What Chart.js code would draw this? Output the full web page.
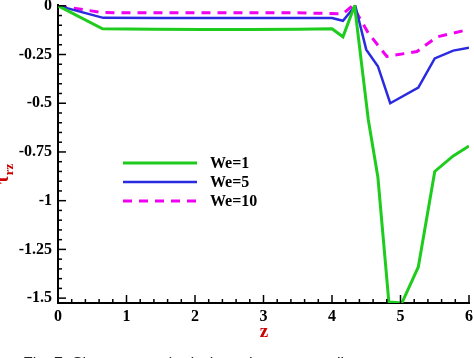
<!DOCTYPE html>
<html>
<head>
<meta charset="utf-8">
<script src="https://cdn.jsdelivr.net/npm/chart.js@4/dist/chart.umd.min.js"></script>
<style>
  html, body { margin: 0; padding: 0; background: #fff; }
  #wrap { width: 474px; height: 358px; position: relative; }
</style>
</head>
<body>
<div id="wrap"><canvas id="shear"></canvas></div>
<script>
// values
const zWe1   = [0, 0.65, 1.4, 2.1, 2.8, 3.5, 4.0, 4.16, 4.33, 4.53, 4.67, 4.83, 5.02, 5.26, 5.5, 5.77, 6.0]
const tauWe1 = [0, -0.118, -0.121, -0.122, -0.122, -0.121, -0.118, -0.159, 0, -0.585, -0.88, -1.52, -1.525, -1.34, -0.85, -0.77, -0.72]

const zWe5   = [0, 0.66, 1.5, 2.5, 3.5, 4.0, 4.16, 4.34, 4.5, 4.67, 4.85, 5.26, 5.5, 5.77, 6.0]
const tauWe5 = [0, -0.062, -0.063, -0.063, -0.063, -0.063, -0.077, 0, -0.225, -0.31, -0.5, -0.42, -0.27, -0.23, -0.215]

const zWe10   = [0, 0.65, 1.5, 2.5, 3.5, 4.16, 4.3, 4.53, 4.8, 5.24, 5.53, 5.95]
const tauWe10 = [0, -0.035, -0.036, -0.036, -0.036, -0.041, 0, -0.14, -0.26, -0.235, -0.16, -0.125]

const labels = ['We=1', 'We=5', 'We=10']
const colors = ['#1ecc1e', '#2a2ae0', '#f000f0']

const yTicks = [0, -0.25, -0.5, -0.75, -1, -1.25, -1.5]
const xTicks = [0, 1, 2, 3, 4, 5, 6]

const pts = (xs, ys) => xs.map((x, i) => ({ x: x, y: ys[i] }))

const serifBold = 'bold 16px "Liberation Serif", "DejaVu Serif", serif'

// inward major/minor ticks, legend in plot area, axis titles, caption
const decorPlugin = {
  id: 'decor',
  afterDraw(chart) {
    const ctx = chart.ctx
    const xs = chart.scales.x, ys = chart.scales.y
    const area = chart.chartArea
    ctx.save()
    ctx.strokeStyle = '#000'
    ctx.lineWidth = 1.5
    // y ticks every 0.05, majors every 0.25
    for (let i = 0; i <= 30; i++) {
      const v = -i * 0.05
      const py = ys.getPixelForValue(v)
      const len = i % 5 === 0 ? 8 : 4
      ctx.beginPath()
      ctx.moveTo(area.left, py)
      ctx.lineTo(area.left + len, py)
      ctx.stroke()
    }
    // x ticks every 0.2, majors every 1
    for (let i = 0; i <= 30; i++) {
      const v = i * 0.2
      const px = xs.getPixelForValue(v)
      const len = i % 5 === 0 ? 8 : 4
      ctx.beginPath()
      ctx.moveTo(px, area.bottom)
      ctx.lineTo(px, area.bottom - len)
      ctx.stroke()
    }

    // legend
    chart.data.datasets.forEach((ds, i) => {
      const y = 163 + i * 19
      ctx.strokeStyle = ds.borderColor
      ctx.lineWidth = ds.borderWidth
      ctx.setLineDash(ds.borderDash || [])
      ctx.beginPath()
      ctx.moveTo(123, y)
      ctx.lineTo(197, y)
      ctx.stroke()
      ctx.setLineDash([])
      ctx.fillStyle = '#000'
      ctx.font = serifBold
      ctx.textBaseline = 'middle'
      ctx.textAlign = 'left'
      ctx.fillText(ds.label, 210, y + 1)
    })

    // x title
    ctx.fillStyle = '#cc0000'
    ctx.font = 'bold 19px "Liberation Serif", serif'
    ctx.textAlign = 'center'
    ctx.textBaseline = 'alphabetic'
    ctx.fillText('z', (area.left + area.right) / 2 + 0.5, 337)

    // y title, rotated, tau with subscript rz
    ctx.save()
    ctx.translate(8, 184)
    ctx.rotate(-Math.PI / 2)
    ctx.textAlign = 'left'
    ctx.textBaseline = 'alphabetic'
    ctx.font = 'bold 19px "Liberation Serif", serif'
    ctx.fillText('τ', 0, 0)
    const w = ctx.measureText('τ').width
    ctx.font = 'bold 13px "Liberation Serif", serif'
    ctx.fillText('rz', w, 5)
    ctx.restore()

    // caption, cut off by the bottom edge
    ctx.fillStyle = '#222'
    ctx.font = '16px "Liberation Sans", Arial, sans-serif'
    ctx.textAlign = 'left'
    ctx.fillText('Fig. 7  Shear stress (τrz) along the upper wall', 23, 369)
    ctx.restore()
  }
}

new Chart(document.getElementById('shear'), {
  type: 'line',
  data: {
    datasets: [
      { label: labels[0], data: pts(zWe1, tauWe1), borderColor: colors[0], borderWidth: 3 },
      { label: labels[1], data: pts(zWe5, tauWe5), borderColor: colors[1], borderWidth: 2.5 },
      { label: labels[2], data: pts(zWe10, tauWe10), borderColor: colors[2], borderWidth: 3, borderDash: [9, 7] }
    ]
  },
  options: {
    responsive: true,
    maintainAspectRatio: false,
    animation: false,
    layout: { padding: { top: 5, right: 5, left: 0, bottom: 0 } },
    elements: {
      point: { radius: 0 },
      line: { tension: 0, fill: false }
    },
    plugins: {
      legend: { display: false },
      tooltip: { enabled: false }
    },
    scales: {
      x: {
        type: 'linear',
        min: 0,
        max: 6,
        afterFit: (s) => { s.height = 55; s.paddingLeft = 0; s.paddingRight = 0 },
        afterBuildTicks: (s) => { s.ticks = xTicks.map(v => ({ value: v })) },
        grid: { display: false, drawTicks: false },
        border: { display: true, color: '#000', width: 2 },
        ticks: {
          padding: 4,
          color: '#000',
          font: { family: '"Liberation Serif", serif', weight: 'bold', size: 16 },
          callback: (v) => String(v)
        }
      },
      y: {
        min: -1.525,
        max: 0.004,
        afterFit: (s) => { s.width = 58; s.paddingTop = 0; s.paddingBottom = 0 },
        afterBuildTicks: (s) => { s.ticks = yTicks.map(v => ({ value: v })) },
        grid: { display: false, drawTicks: false },
        border: { display: true, color: '#000', width: 2 },
        ticks: {
          padding: 6,
          color: '#000',
          font: { family: '"Liberation Serif", serif', weight: 'bold', size: 16 },
          callback: (v) => v === 0 ? '0' : String(Math.round(v * 100) / 100)
        }
      }
    }
  },
  plugins: [decorPlugin]
})
</script>
</body>
</html>
